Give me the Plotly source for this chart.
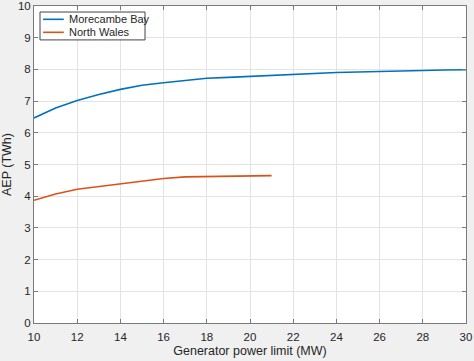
import plotly.graph_objects as go

mw_mb = [10, 11, 12, 13, 14, 15, 16, 17, 18, 19, 20, 21, 22, 23, 24, 25, 26, 27, 28, 29, 30]
aep_mb = [6.47, 6.78, 7.02, 7.21, 7.37, 7.50, 7.58, 7.66, 7.72, 7.75, 7.78, 7.82, 7.86, 7.88, 7.90, 7.92, 7.94, 7.95, 7.97, 7.98, 7.99]
mw_nw = [10, 11, 12, 13, 14, 15, 16, 17, 18, 19, 20, 21]
aep_nw = [3.87, 4.07, 4.22, 4.30, 4.40, 4.46, 4.56, 4.61, 4.62, 4.65, 4.65, 4.65]
series_names = ["Morecambe Bay", "North Wales"]
series_colors = ["#0072BD", "#D95319"]

fig = go.Figure()
fig.add_trace(go.Scatter(x=mw_mb, y=aep_mb, mode="lines", name=series_names[0],
                         line=dict(color=series_colors[0], width=1.6)))
fig.add_trace(go.Scatter(x=mw_nw, y=aep_nw, mode="lines", name=series_names[1],
                         line=dict(color=series_colors[1], width=1.6)))

axis_common = dict(showgrid=True, gridcolor="#e3e3e3", gridwidth=1,
                   showline=True, linecolor="#7a7a7a", linewidth=1, mirror="ticks",
                   ticks="inside", ticklen=4, tickcolor="#7a7a7a", zeroline=False,
                   ticklabeloverflow="allow",
                   tickfont=dict(family="Liberation Sans, Arial", size=11.5, color="#262626"))

# Compact MATLAB-style legend box (paper coordinates)
shapes = [dict(type="rect", xref="paper", yref="paper", x0=0.0139, x1=0.257,
               y0=0.893, y1=0.981, fillcolor="white",
               line=dict(color="#444444", width=1), layer="above")]
annotations = []
row_y = [0.958, 0.917]
for name, color, yy in zip(series_names, series_colors, row_y):
    shapes.append(dict(type="line", xref="paper", yref="paper", x0=0.021, x1=0.069,
                       y0=yy, y1=yy, line=dict(color=color, width=1.6), layer="above"))
    annotations.append(dict(xref="paper", yref="paper", x=0.076, y=yy, text=name,
                            showarrow=False, xanchor="left", yanchor="middle",
                            font=dict(size=11, color="#262626")))

fig.update_layout(
    width=474, height=361,
    paper_bgcolor="#f0f0f0", plot_bgcolor="white",
    margin=dict(l=34, r=8, t=6, b=38, autoexpand=False),
    font=dict(family="Liberation Sans, Arial", size=12, color="#262626"),
    xaxis=dict(range=[10, 30], dtick=2, tick0=10, automargin=False, ticklabelstandoff=3,
               title=dict(text="Generator power limit (MW)", standoff=4,
                          font=dict(size=12.5)), **axis_common),
    yaxis=dict(range=[0, 10], dtick=1, tick0=0, automargin=False,
               title=dict(text="AEP (TWh)", standoff=8, font=dict(size=12.5)), **axis_common),
    showlegend=False,
    shapes=shapes,
    annotations=annotations,
)

fig.write_html("out.html", post_script="document.body.style.margin='0';",
               config={"displayModeBar": False})
